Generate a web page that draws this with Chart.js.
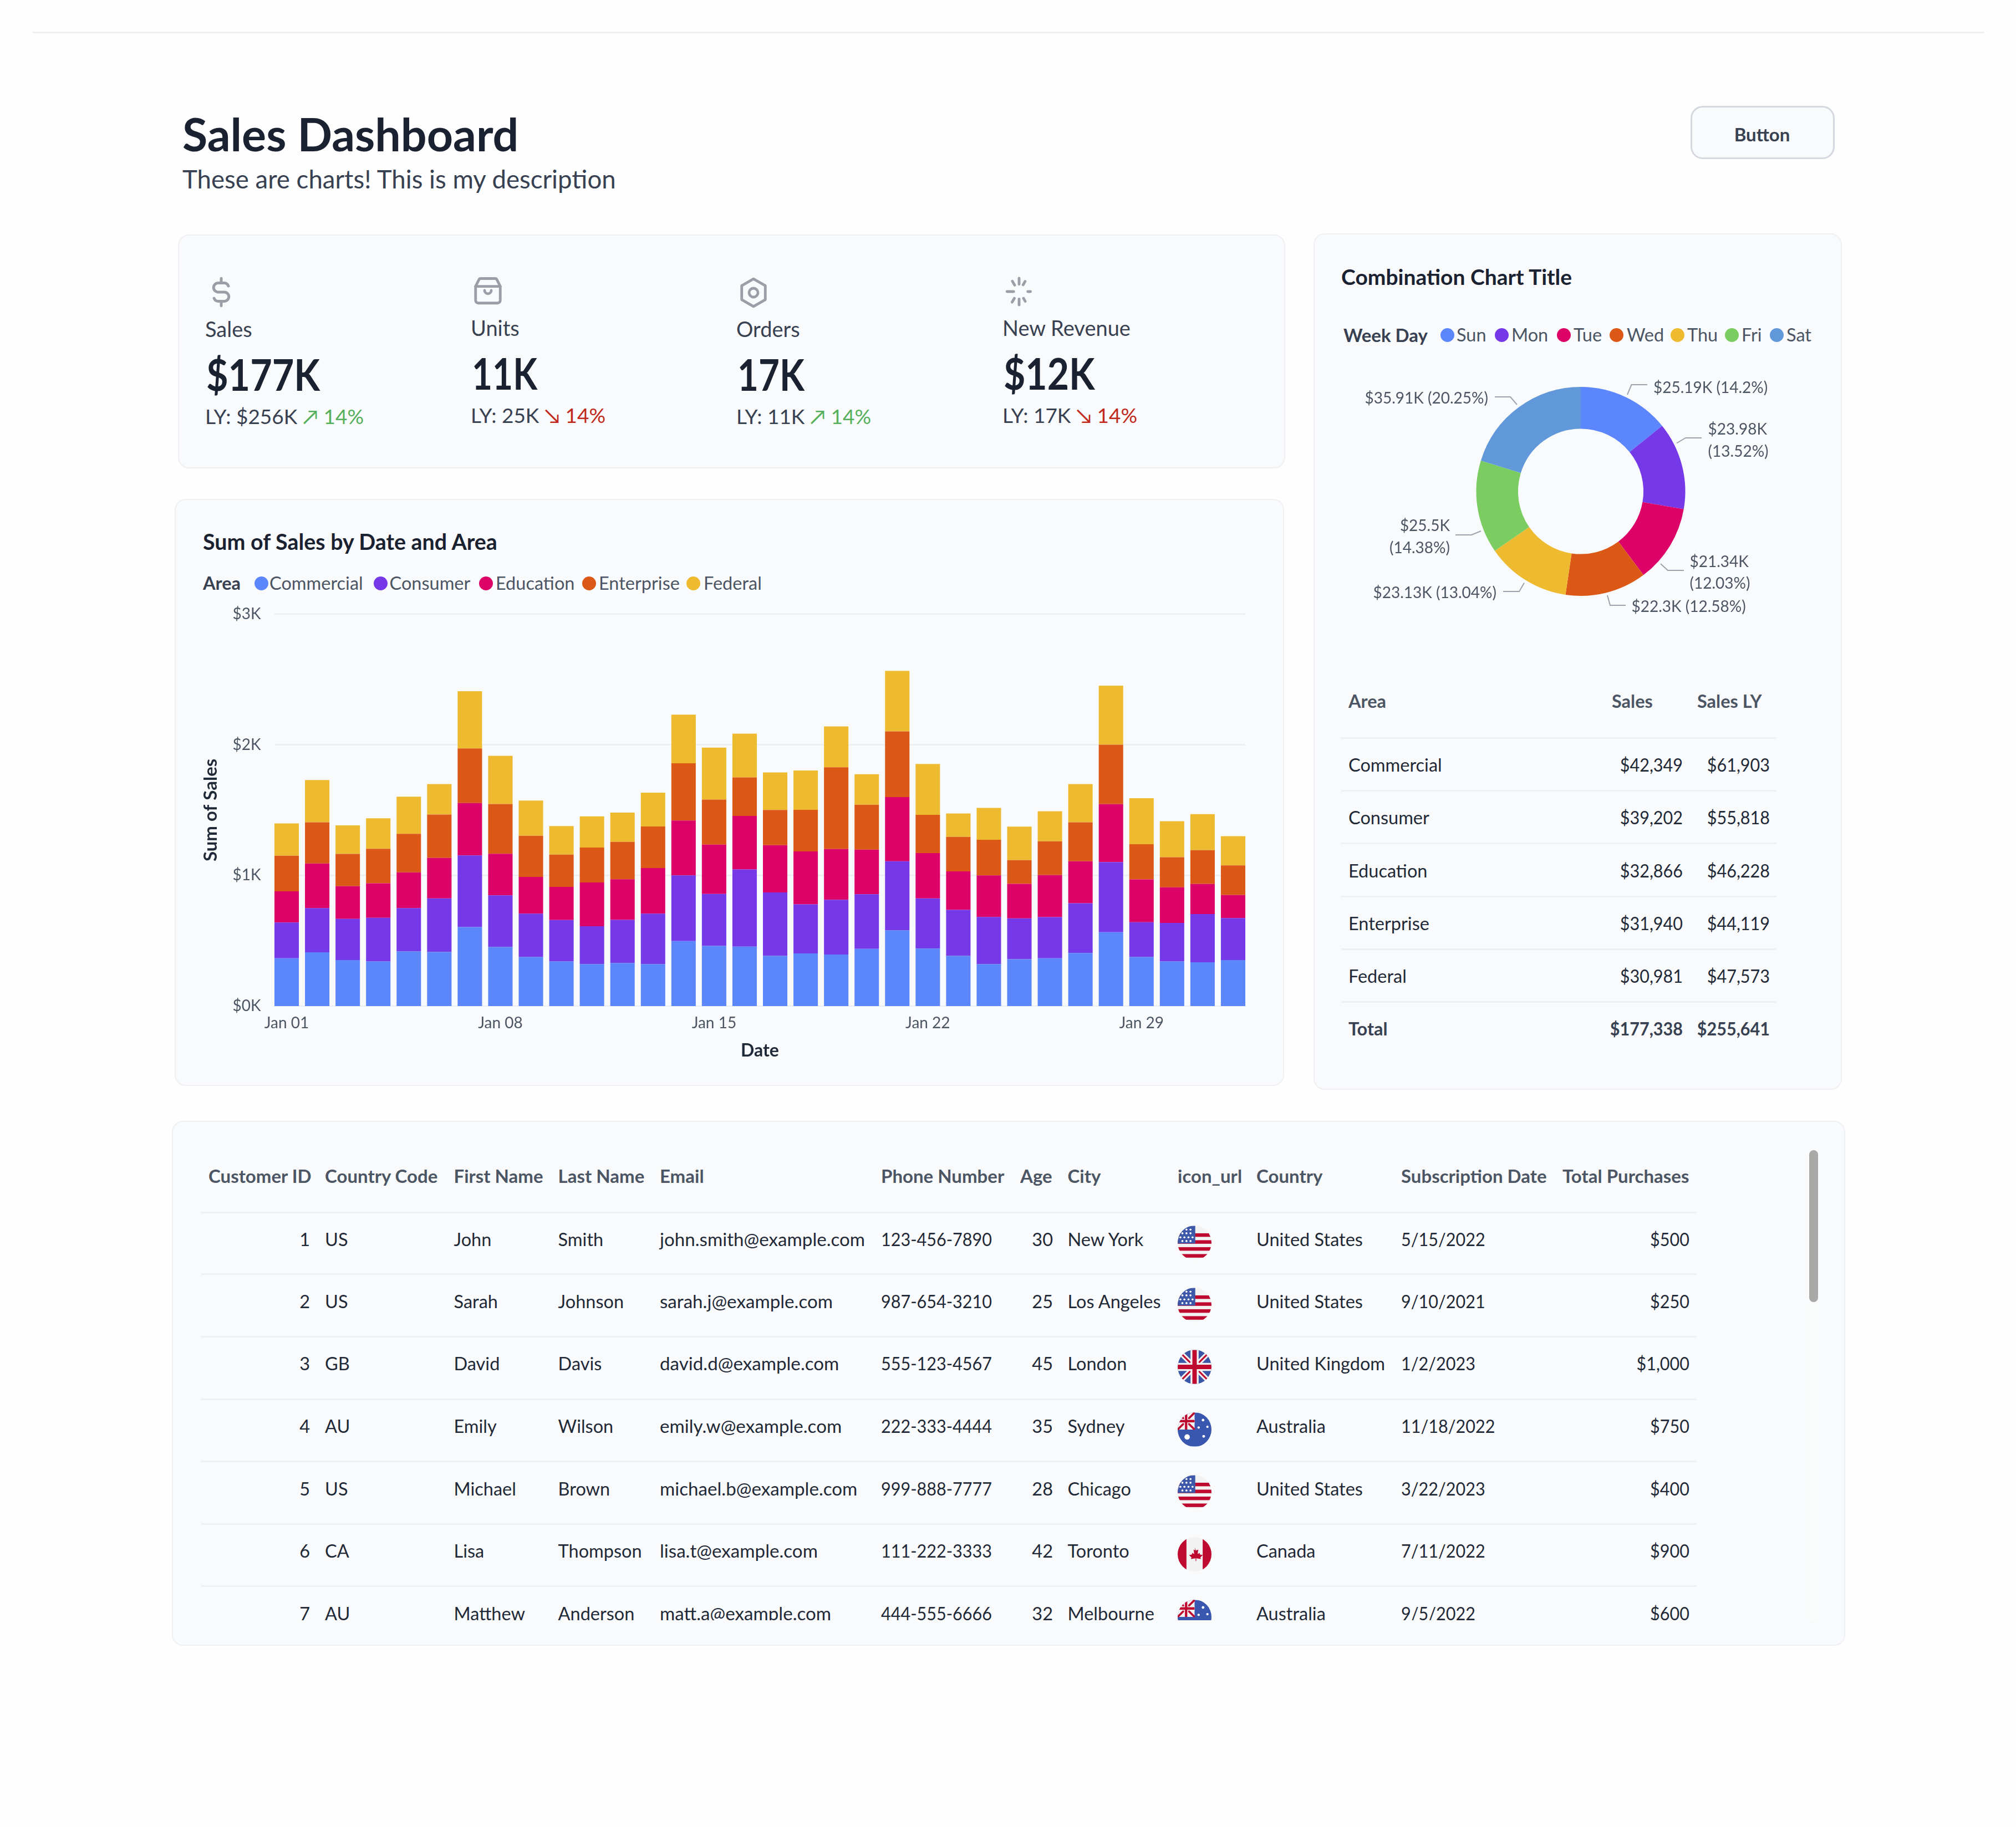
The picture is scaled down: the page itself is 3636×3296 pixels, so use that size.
<!DOCTYPE html>
<html><head><meta charset="utf-8"><title>Sales Dashboard</title>
<script src="https://cdn.jsdelivr.net/npm/chart.js@4/dist/chart.umd.js"></script>
<style>
html,body{margin:0;padding:0;width:3636px;height:3296px;background:#fefefe;overflow:hidden;font-family:Lato,"Open Sans",sans-serif}
#root{position:absolute;left:0;top:0;width:3636px;height:3296px}
.t{position:absolute;white-space:nowrap;line-height:1}
.card{position:absolute;box-sizing:border-box;background:#f9fafb;border:2.5px solid #eef0f3;border-radius:20px}
.rule{position:absolute;height:2.5px;background:#eff0f3}
.dot{position:absolute;width:25px;height:25px;border-radius:50%}
canvas{position:absolute;display:block}
svg{position:absolute}
</style></head><body><div id="root"></div>
<script>
// ---------- chart data ----------
const dates = ['Jan 01','Jan 02','Jan 03','Jan 04','Jan 05','Jan 06','Jan 07','Jan 08','Jan 09','Jan 10','Jan 11','Jan 12','Jan 13','Jan 14','Jan 15','Jan 16','Jan 17','Jan 18','Jan 19','Jan 20','Jan 21','Jan 22','Jan 23','Jan 24','Jan 25','Jan 26','Jan 27','Jan 28','Jan 29','Jan 30','Jan 31','Feb 01'];
const commercial = [366,412,352,341,418,415,605,452,375,341,321,330,321,497,460,455,384,403,395,438,580,440,384,321,358,366,406,565,375,341,335,352];
const consumer   = [273,338,315,335,332,409,548,395,332,318,290,330,386,503,398,591,486,375,418,418,528,384,352,361,313,315,381,537,267,295,369,321];
const education  = [239,341,250,264,273,310,401,318,281,253,335,310,349,420,378,409,361,406,389,341,491,347,295,318,264,321,321,443,327,273,230,176];
const enterprise = [273,315,247,264,295,332,418,381,315,247,267,287,318,438,344,295,270,318,625,344,503,293,264,273,182,259,298,455,270,230,259,227];
const federal    = [247,324,219,233,284,233,438,369,270,219,239,224,259,372,398,335,287,301,313,233,463,389,179,244,256,230,293,452,352,276,276,224];
const areaNames  = ['Commercial','Consumer','Education','Enterprise','Federal'];
const yTickValues = [0,1000,2000,3000];

const weekDays   = ['Sun','Mon','Tue','Wed','Thu','Fri','Sat'];
const weekSales  = [25190,23980,21340,22300,23130,25500,35910];
const weekLabels = [['$25.19K (14.2%)'],['$23.98K','(13.52%)'],['$21.34K','(12.03%)'],['$22.3K (12.58%)'],['$23.13K (13.04%)'],['$25.5K','(14.38%)'],['$35.91K (20.25%)']];

const kpiNames = ['Sales','Units','Orders','New Revenue'];
const kpiValues = ['$177K','11K','17K','$12K'];
const kpiLast = ['LY: $256K','LY: 25K','LY: 11K','LY: 17K'];
const kpiDelta = ['↗ 14%','↘ 14%','↗ 14%','↘ 14%'];

const areaRows = [['Commercial','$42,349','$61,903'],['Consumer','$39,202','$55,818'],['Education','$32,866','$46,228'],['Enterprise','$31,940','$44,119'],['Federal','$30,981','$47,573'],['Total','$177,338','$255,641']];
const customerHead = ['Customer ID','Country Code','First Name','Last Name','Email','Phone Number','Age','City','icon_url','Country','Subscription Date','Total Purchases'];
const customerRows = [
 ['1','US','John','Smith','john.smith@example.com','123-456-7890','30','New York','United States','5/15/2022','$500'],
 ['2','US','Sarah','Johnson','sarah.j@example.com','987-654-3210','25','Los Angeles','United States','9/10/2021','$250'],
 ['3','GB','David','Davis','david.d@example.com','555-123-4567','45','London','United Kingdom','1/2/2023','$1,000'],
 ['4','AU','Emily','Wilson','emily.w@example.com','222-333-4444','35','Sydney','Australia','11/18/2022','$750'],
 ['5','US','Michael','Brown','michael.b@example.com','999-888-7777','28','Chicago','United States','3/22/2023','$400'],
 ['6','CA','Lisa','Thompson','lisa.t@example.com','111-222-3333','42','Toronto','Canada','7/11/2022','$900'],
 ['7','AU','Matthew','Anderson','matt.a@example.com','444-555-6666','32','Melbourne','Australia','9/5/2022','$600']];

// ---------- style ----------
const FONT='Lato';
const areaColors=['#5b86fc','#7539e8','#dc0268','#db5816','#eebb30'];
const dayColors=['#5b86fc','#7539e8','#dc0268','#db5816','#eebb30','#7bcd62','#6198da'];
const INK='#1a2130', BODY='#374151', HEAD='#4b5563', CELL='#1f2937';

// ---------- dom helpers ----------
const root=document.getElementById('root');
function el(cls,css,parent){const e=document.createElement('div');e.className=cls;Object.assign(e.style,css);(parent||root).appendChild(e);return e;}
function T(x,cy,text,size,weight,color,align,parent,squeeze){
  const e=el('t',{top:(cy-size/2)+'px',fontSize:size+'px',fontWeight:weight||400,color:color||BODY},parent);
  e.textContent=text;
  e.style.left=x+'px';
  let k=squeeze;
  if(k===undefined){ if(/^[$\d,\-\/.]+$/.test(text)&&text.length>2)k=.94; else if(/@/.test(text))k=1.02; else k=1; }
  const sx=k===1?'':' scaleX('+k+')';
  if(align==='r'){e.style.transformOrigin='right center';e.style.transform='translateX(-100%)'+sx;}
  else if(align==='c'){e.style.transform='translateX(-50%)'+sx;}
  else if(sx){e.style.transformOrigin='left center';e.style.transform=sx.trim();}
  return e;
}
function card(l,t,r,b){return el('card',{left:l+'px',top:t+'px',width:(r-l)+'px',height:(b-t)+'px'});}
function rule(l,r,y,parent){return el('rule',{left:l+'px',width:(r-l)+'px',top:(y-1)+'px'},parent);}
function svg(x,y,w,h,vb,inner,parent,extra){
  const s=document.createElementNS('http://www.w3.org/2000/svg','svg');
  s.setAttribute('viewBox',vb);s.setAttribute('width',w);s.setAttribute('height',h);
  s.style.left=x+'px';s.style.top=y+'px';if(extra)s.setAttribute('style',s.getAttribute('style')+';'+extra);
  s.innerHTML=inner;(parent||root).appendChild(s);return s;
}

// page frame
rule(58,3578,58);
T(329,242,'Sales Dashboard',82.5,700,INK);
T(329,323,'These are charts! This is my description',45.6,400,BODY);
el('card',{left:'3049px',top:'191px',width:'260px',height:'96px',border:'3px solid #d5d8e0',borderRadius:'22px'});
T(3178,242,'Button',33,700,BODY,'c');

card(321,423,2318,845);
card(315,900,2316,1959);
card(2369,421,3322,1966);
card(310,2022,3328,2969);

// KPI row
const kpiX=[370,849,1328,1808], kpiDy=[-2,-4,-2,-4], kpiSqueeze=[.875,.82,.84,.87];
const icons=[
 '<path d="M16.7 8a3 3 0 0 0 -2.7 -2h-4a3 3 0 0 0 0 6h4a3 3 0 0 1 0 6h-4a3 3 0 0 1 -2.7 -2"/><path d="M12 3v3m0 12v3"/>',
 '<path d="M2.800 8.500h18.400v10.500a2 2 0 0 1 -2 2h-14.400a2 2 0 0 1 -2 -2z"/><path d="M2.800 8.500l2.500 -5a1.500 1.500 0 0 1 1.300 -.8h10.800a1.500 1.500 0 0 1 1.300 .8l2.500 5"/><path d="M9.500 11.500a2.500 2.500 0 0 0 5 0"/>',
 '<path d="M12 1.700l8.800 5.100v10.400l-8.800 5.100l-8.800 -5.100v-10.400z"/><circle cx="12" cy="12" r="3.300"/>',
 '<path d="M12 6.500v-4.500"/><path d="M15 7l1.500 -2.600"/><path d="M18.500 12h2"/><path d="M15.300 17l1.300 2.300"/><path d="M12 17.500v4.500"/><path d="M8.500 17l-1.700 2.900"/><path d="M8 12h-5"/><path d="M8.700 7.200l-1.700 -2.900"/>'];
const iconC=[[398.5,527,66],[879.5,525,58],[1358.5,527.5,58],[1837.5,525.5,58]];
kpiNames.forEach((n,i)=>{
  const d=kpiDy[i], c=iconC[i];
  svg(c[0]-c[2]/2,c[1]-c[2]/2,c[2],c[2],'0 0 24 24','<g fill="none" stroke="#9a9ea6" stroke-width="'+(i===0?1.8:2)+'" stroke-linecap="round" stroke-linejoin="round">'+icons[i]+'</g>');
  T(kpiX[i],595+d,n,38,400,BODY);
  T(kpiX[i]+2,677+d,kpiValues[i],78,700,INK,'l',null,kpiSqueeze[i]);
  const ly=T(kpiX[i],752+d,kpiLast[i],37,400,BODY,'l',null,1);
  const w=ly.getBoundingClientRect().width;
  const up=kpiDelta[i][0]==='↗';
  T(kpiX[i]+w+10,752+d,kpiDelta[i],37,400,up?'#55b05c':'#c0281c');
});

// chart 1 header + legend
T(366,977,'Sum of Sales by Date and Area',39.4,700,INK);
T(366,1052,'Area',32.5,700,BODY);
const legX=[[471,486],[686.5,702.5],[876.7,894],[1062,1080],[1250,1269]];
areaNames.forEach((n,i)=>{
  el('dot',{left:(legX[i][0]-12.5)+'px',top:(1052-12.5)+'px',background:areaColors[i]});
  T(legX[i][1],1052,n,32.5,400,HEAD);
});

// chart 2 header + legend
T(2419,499,'Combination Chart Title',39,700,INK);
T(2423,604,'Week Day',33,700,BODY);
const dayX=[[2610,2627],[2708,2726],[2820.6,2838],[2915.6,2934],[3025.6,3043],[3123,3141],[3204,3222]];
weekDays.forEach((n,i)=>{
  el('dot',{left:(dayX[i][0]-12.5)+'px',top:(604-12.5)+'px',background:dayColors[i]});
  T(dayX[i][1],604,n,32.5,400,HEAD);
});

// area table
T(2432,1265,'Area',32.5,700,HEAD);
T(2907,1265,'Sales',32.5,700,HEAD);
T(3061,1265,'Sales LY',32.5,700,HEAD);
[1331,1426,1521,1617,1712,1807].forEach(y=>rule(2419,3204,y));
const areaY=[1380,1475.5,1571,1666.5,1761,1856.6];
areaRows.forEach((r,i)=>{
  const tot=i===5, c=tot?BODY:CELL, w=tot?700:400;
  T(2432,areaY[i],r[0],32.5,w,c);
  T(3035,areaY[i],r[1],32.5,w,c,'r');
  T(3192,areaY[i],r[2],32.5,w,c,'r');
});

// customer table
const headX=[376,586,818.5,1006.6,1190,1589,1840,1925.5,2124,2266,2527,2818];
customerHead.forEach((h,i)=>T(headX[i],2121,h,33,700,HEAD));
[2187,2298,2411,2524,2636,2749,2861].forEach(y=>rule(363,3060,y));
const clip=el('x',{position:'absolute',left:'310px',top:'2190px',width:'2900px',height:'733px',overflow:'hidden'});
function flag(code){
 const star=(x,y,r)=>`<circle cx="${x}" cy="${y}" r="${r}" fill="#fff"/>`;
 if(code==='US'){let s='<rect width="100" height="100" fill="#f2f2f2"/>';
  for(let i=0;i<4;i++)s+=`<rect y="${22+i*20.5}" width="100" height="10.500" fill="#bf0a30"/>`;
  s+='<path d="M0 0h52v52h-52z" fill="#3d58a8"/>';
  [[14,22],[26,22],[38,22],[8,34],[20,34],[32,34],[44,34],[14,45],[26,45],[38,45],[26,11],[38,11]].forEach(p=>s+=star(p[0],p[1],3));
  return s;}
 if(code==='GB')return '<rect width="100" height="100" fill="#3a57a7"/><path d="M0 0L100 100M100 0L0 100" stroke="#f2f2f2" stroke-width="15"/><path d="M0 0L100 100M100 0L0 100" stroke="#bf0a30" stroke-width="5"/><path d="M50 0V100M0 50H100" stroke="#f2f2f2" stroke-width="24"/><path d="M50 0V100M0 50H100" stroke="#bf0a30" stroke-width="13"/>';
 if(code==='AU'){return '<rect width="100" height="100" fill="#3a57b0"/><rect width="50" height="50" fill="#f2f2f2"/><path d="M0 0L50 50M50 0L0 50" stroke="#bf0a30" stroke-width="6"/><path d="M25 0V50M0 25H50" stroke="#f2f2f2" stroke-width="12"/><path d="M25 0V50M0 25H50" stroke="#bf0a30" stroke-width="7"/>'+star(75,22,4)+star(88,42,3.500)+star(62,44,3.500)+star(77,70,4)+star(28,72,8);}
 return '<rect width="100" height="100" fill="#f2f2f2"/><rect width="26" height="100" fill="#bf0a30"/><rect x="74" width="26" height="100" fill="#bf0a30"/><path d="M50 30l5 9l6 -3l-2 13l6 -3l1 5l8 1l-7 8l2 4l-14 -2l0 8h-2l0 -8l-14 2l2 -4l-7 -8l8 -1l1 -5l6 3l-2 -13l6 3z" fill="#bf0a30"/>';
}
const rowY=[2236,2348,2460,2573,2686,2798,2911];
const colX=[559,586,818.5,1006.6,1190,1589,1899,1925.5,2266,2527,3047];
customerRows.forEach((r,ri)=>{
  r.forEach((v,ci)=>{
    const right=ci===0||ci===6||ci===10;
    T(colX[ci]-310,rowY[ri]-2190,v,32.5,400,CELL,right?'r':'l',clip);
  });
  svg(2124-310,rowY[ri]-2190-25,61,62,'0 0 100 100',flag(r[1]),clip,'border-radius:50%');
});
el('x',{position:'absolute',left:'3263px',top:'2349px',width:'16px',height:'576px',background:'#fbfcfc',borderRadius:'8px'});
el('x',{position:'absolute',left:'3263px',top:'2075px',width:'16px',height:'274px',background:'#a9aaa7',borderRadius:'8px'});

// ---------- canvases ----------
function makeCanvas(id,l,t,w,h){const c=document.createElement('canvas');c.id=id;c.width=w;c.height=h;c.style.left=l+'px';c.style.top=t+'px';c.style.width=w+'px';c.style.height=h+'px';root.appendChild(c);return c;}

const insetGrid={id:'insetGrid',beforeDatasetsDraw(ch){
  const y=ch.scales.y, bars=ch.getDatasetMeta(0).data, ctx=ch.ctx;
  const first=bars[0], last=bars[bars.length-1];
  ctx.save();ctx.strokeStyle='#eceef1';ctx.lineWidth=2.5;
  y.ticks.forEach((t,i)=>{const p=y.getPixelForTick(i);ctx.beginPath();ctx.moveTo(first.x-first.width/2,p);ctx.lineTo(last.x+last.width/2,p);ctx.stroke();});
  ctx.restore();
}};

new Chart(makeCanvas('barChart',362,1080,1900,850),{
  type:'bar',
  data:{labels:dates,datasets:[commercial,consumer,education,enterprise,federal].map((d,i)=>({label:areaNames[i],data:d,backgroundColor:areaColors[i],borderWidth:0,stack:'s'}))},
  plugins:[insetGrid],
  options:{responsive:false,animation:false,devicePixelRatio:1,
    layout:{padding:{top:1.2,right:10.5,bottom:15,left:0}},
    plugins:{legend:{display:false},tooltip:{enabled:false}},
    datasets:{bar:{categoryPercentage:1,barPercentage:0.8}},
    scales:{
      x:{stacked:true,grid:{display:false},border:{display:false},
        afterFit(s){s.height=100;},
        ticks:{autoSkip:false,maxRotation:0,padding:6,color:HEAD,font:{family:FONT,size:28},callback(v,i){return i%7===0?dates[i]:'';}},
        title:{display:true,text:'Date',color:CELL,padding:0,font:{family:FONT,size:32,weight:'700',lineHeight:1.2}}},
      y:{stacked:true,min:0,max:3000,afterFit(s){s.width=127.5;},
        afterBuildTicks(s){s.ticks=yTickValues.map(v=>({value:v}));},
        grid:{display:false},border:{display:false},
        ticks:{padding:11,color:HEAD,font:{family:FONT,size:28},callback(v){return '$'+v/1000+'K';}},
        title:{display:true,text:'Sum of Sales',color:CELL,padding:0,font:{family:FONT,size:33,weight:'700',lineHeight:1.1}}}
    }}
});

// callout geometry, relative to the doughnut centre
const callouts=[
 {line:[[84,-174.5],[91.5,-192.5],[120,-192.5]],x:131,y:[-188],align:'left'},
 {line:[[173,-87],[189,-96.5],[218,-96.5]],x:229.6,y:[-112.5,-73],align:'left'},
 {line:[[144,130.5],[157,142.5],[186,142.5]],x:196.5,y:[126.5,165.5],align:'left'},
 {line:[[48,187.5],[53,205.5],[81,205.5]],x:91.5,y:[207.5],align:'left'},
 {line:[[-102,165],[-111,180.5],[-140,180.5]],x:-152,y:[182.5],align:'right'},
 {line:[[-180,71.5],[-197,78.5],[-226,78.5]],x:-236,y:[61.5,101.5],align:'right'},
 {line:[[-115,-156.5],[-127,-170.5],[-155,-170.5]],x:-167,y:[-168.5],align:'right'}];
const calloutPlugin={id:'callouts',afterDatasetsDraw(ch){
  const a=ch.getDatasetMeta(0).data[0], cx=a.x, cy=a.y, ctx=ch.ctx;
  ctx.save();
  callouts.forEach((c,i)=>{
    ctx.strokeStyle='#9ca3af';ctx.lineWidth=2;ctx.beginPath();
    c.line.forEach((p,j)=>j?ctx.lineTo(cx+p[0],cy+p[1]):ctx.moveTo(cx+p[0],cy+p[1]));ctx.stroke();
    ctx.fillStyle=HEAD;ctx.font='28px '+FONT;ctx.textAlign=c.align;ctx.textBaseline='middle';
    weekLabels[i].forEach((l,j)=>ctx.fillText(l,cx+c.x,cy+c.y[j]+1));
  });
  ctx.restore();
}};
new Chart(makeCanvas('donutChart',2390,630,922,513),{
  type:'doughnut',
  data:{labels:weekDays,datasets:[{data:weekSales,backgroundColor:dayColors,borderWidth:0}]},
  plugins:[calloutPlugin],
  options:{responsive:false,animation:false,devicePixelRatio:1,radius:188.5,cutout:'60%',
    plugins:{legend:{display:false},tooltip:{enabled:false}}}
});
</script></body></html>
